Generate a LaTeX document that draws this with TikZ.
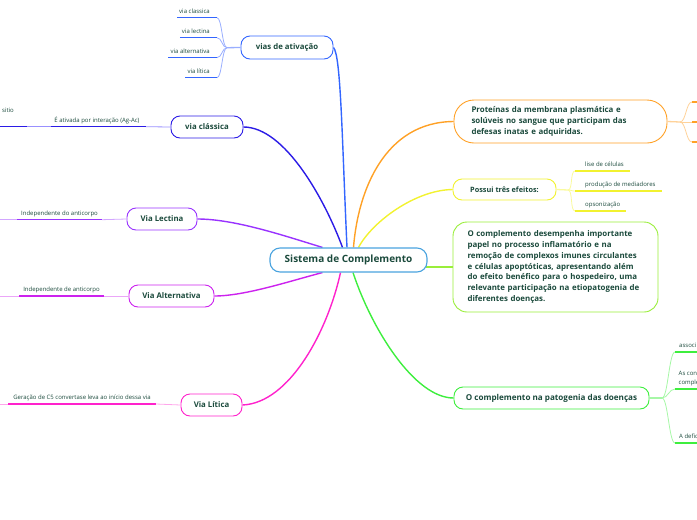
\documentclass[tikz,border=0pt]{standalone}
\usepackage{fontspec}
\setmainfont{Open Sans}
\usetikzlibrary{calc}
\pgfdeclarelayer{bg}
\pgfsetlayers{bg,main}
\definecolor{txt}{HTML}{1B4A3C}
\definecolor{cCen}{HTML}{4AA3DF}
\definecolor{cVias}{HTML}{3366FF}
\definecolor{cViasL}{HTML}{99AEFF}
\definecolor{cCla}{HTML}{2B1BE6}
\definecolor{cClaL}{HTML}{9990FF}
\definecolor{cLec}{HTML}{9933FF}
\definecolor{cLecL}{HTML}{D2A6FF}
\definecolor{cAlt}{HTML}{CC22EE}
\definecolor{cAltL}{HTML}{EBA6F8}
\definecolor{cLit}{HTML}{FF22CC}
\definecolor{cLitL}{HTML}{FFA6EB}
\definecolor{cOra}{HTML}{FFA126}
\definecolor{cOraL}{HTML}{FFD299}
\definecolor{cYel}{HTML}{F2F230}
\definecolor{cYelL}{HTML}{FAFA9E}
\definecolor{cLim}{HTML}{99EE3A}
\definecolor{cGrn}{HTML}{3EEE3E}
\definecolor{cGrnL}{HTML}{A6F7A6}
\begin{document}
\begin{tikzpicture}[x=1pt,y=-1pt,
  topic/.style={draw=#1, line width=0.9pt, rounded corners=9pt, fill=white, text=txt, inner sep=0pt, align=center},
  bfs/.style={font=\bfseries\fontsize{7.8}{9}\selectfont},
  bfm/.style={font=\bfseries\fontsize{7.9}{10.8}\selectfont},
  lbl/.style={font=\fontsize{6}{9}\selectfont, text=txt, inner sep=0pt},
  ul/.style={draw=#1, line width=1.4pt},
  lk/.style={draw=#1, line width=0.8pt},
  mainlk/.style={draw=#1, line width=1.4pt}
]
\useasboundingbox (0,0) rectangle (697,520);
% topic nodes
\node[topic=cCen, line width=1.1pt, rounded corners=10pt, minimum width=157pt, minimum height=24pt,
      font=\bfseries\fontsize{10}{11}\selectfont] (cen) at (348.5,260) {Sistema de Complemento};
\node[topic=cVias, bfs, minimum width=92pt, minimum height=23pt] (vias) at (287,47.5) {vias de ativação};
\node[topic=cCla, bfs, minimum width=72pt, minimum height=22pt] (cla) at (207,127) {via clássica};
\node[topic=cLec, bfs, minimum width=70pt, minimum height=22pt] (lec) at (162,219) {Via Lectina};
\node[topic=cAlt, bfs, minimum width=85pt, minimum height=22pt] (alt) at (171.5,296) {Via Alternativa};
\node[topic=cLit, bfs, minimum width=61pt, minimum height=22pt] (lit) at (211.5,405) {Via Lítica};
\node[topic=cOra, bfm, rounded corners=20pt, minimum width=213pt, minimum height=43pt, text width=178pt, align=left] (prot) at (560.5,121.5)
  {Proteínas da membrana plasmática e\\solúveis no sangue que participam das\\defesas inatas e adquiridas.};
\node[topic=cYel, font=\bfseries\fontsize{7.3}{9}\selectfont, minimum width=103pt, minimum height=21pt] (pos) at (504.5,189.5) {Possui três efeitos:};
\node[topic=cLim, bfm, rounded corners=14pt, minimum width=205pt, minimum height=90pt, text width=176pt, align=left] (lime) at (555.5,267)
  {O complemento desempenha importante\\papel no processo inflamatório e na\\remoção de complexos imunes circulantes\\e células apoptóticas, apresentando além\\do efeito benéfico para o hospedeiro, uma\\relevante participação na etiopatogenia de\\diferentes doenças.};
\node[topic=cGrn, font=\bfseries\fontsize{8.1}{10}\selectfont, minimum width=195pt, minimum height=22pt] (pat) at (551.5,398) {O complemento na patogenia das doenças};

% main connectors
\begin{pgfonlayer}{bg}
\draw[mainlk=cVias] (vias.east) .. controls (341,55) and (342,140) .. ([xshift=-1.5pt]cen.north);
\draw[mainlk=cCla] (cla.east) .. controls (285,127) and (325,200) .. ([xshift=-6pt]cen.north);
\draw[mainlk=cLec] (lec.east) .. controls (235,219) and (285,236) .. ([xshift=-26pt]cen.north);
\draw[mainlk=cAlt] (alt.east) .. controls (245,296) and (290,281) .. ([xshift=-26pt]cen.south);
\draw[mainlk=cLit] (lit.east) .. controls (290,403) and (328,330) .. ([xshift=-8pt]cen.south);
\draw[mainlk=cOra] ([xshift=5pt]cen.north) .. controls (358,190) and (385,122) .. (prot.west);
\draw[mainlk=cYel] ([xshift=10pt]cen.north) .. controls (372,222) and (415,190) .. (pos.west);
\draw[mainlk=cLim] ([xshift=-2pt]cen.east |- lime.west) -- (lime.west);
\draw[mainlk=cGrn] ([xshift=4.5pt]cen.south) .. controls (372,330) and (415,398) .. (pat.west);
\end{pgfonlayer}

% vias de ativacao children
\coordinate (vj) at (227,47.7);
\draw[lk=cViasL, line width=1.3pt] (vias.west) -- (vj);
\node[lbl, anchor=base east] (v1) at (210,13.3) {via classica};
\node[lbl, anchor=base east] (v2) at (210,33.3) {via lectina};
\node[lbl, anchor=base east] (v3) at (210,53.3) {via alternativa};
\node[lbl, anchor=base east] (v4) at (210,73.3) {via lítica};
\coordinate (v1r) at (217,17.7);
\coordinate (v2r) at (217,37.7);
\coordinate (v3r) at (217,57.7);
\coordinate (v4r) at (217,77.7);
\foreach \c in {v1,v2,v3,v4}{
  \draw[lk=cViasL] (vj) .. controls ([xshift=-5pt]vj) and ([xshift=5pt]\c r) .. (\c r);
  \draw[ul=cVias] ($(\c.west |- \c r)+(-2,0)$) -- (\c r);
}

% via classica children
\coordinate (c1r) at (146,126.7);
\coordinate (c1l) at (51,126.7);
\coordinate (c2r) at (27,126.7);
\coordinate (c2l) at (0,126.7);
\draw[lk=cClaL] (cla.west) -- (c1r);
\draw[ul=cCla] (c1l) -- (c1r);
\node[lbl, anchor=base] (c1) at (97,122.5) {É ativada por interação (Ag-Ac)};
\draw[lk=cClaL] (c1l) -- (c2r);
\draw[ul=cCla] (c2l) -- (c2r);
\node[lbl, anchor=base east] (c2) at (14,112.5) {sitio};

% via lectina child
\coordinate (l1r) at (102,219.7);
\coordinate (l1l) at (17,219.7);
\coordinate (l0) at (0,219.7);
\draw[lk=cLecL] (lec.west) -- (l1r);
\draw[ul=cLec] (l1l) -- (l1r);
\draw[lk=cLecL] (l1l) -- (l0);
\node[lbl, anchor=base] (l1) at (59.5,215) {Independente do anticorpo};

% via alternativa child
\coordinate (a1r) at (104,296);
\coordinate (a1l) at (19,296);
\coordinate (a0) at (0,296);
\draw[lk=cAltL] (alt.west) -- (a1r);
\draw[ul=cAlt] (a1l) -- (a1r);
\draw[lk=cAltL] (a1l) -- (a0);
\node[lbl, anchor=base] (a1) at (61.5,291.5) {Independente de anticorpo};

% via litica child
\coordinate (t1r) at (156,404);
\coordinate (t1l) at (8,404);
\coordinate (t0) at (0,404);
\draw[lk=cLitL] (lit.west) -- (t1r);
\draw[ul=cLit] (t1l) -- (t1r);
\draw[lk=cLitL] (t1l) -- (t0);
\node[lbl, anchor=base] (t1) at (82,399.5) {Geração de C5 convertase leva ao início dessa via};

% proteins children (cut off at page edge)
\coordinate (oj) at (680,122);
\draw[lk=cOraL, line width=1.3pt] (prot.east) -- (oj);
\foreach \y [count=\i] in {102,122,142}{
  \coordinate (o\i) at (692,\y);
  \coordinate (o\i e) at (697,\y);
  \draw[lk=cOraL] (oj) .. controls ([xshift=6pt]oj) and ([xshift=-6pt]o\i) .. (o\i);
  \draw[ul=cOra] (o\i) -- (o\i e);
}

% possui children
\coordinate (yj) at (568,190);
\draw[lk=cYelL, line width=1.3pt] (pos.east) -- (yj);
\node[lbl, anchor=base west] (y1) at (585,166.5) {lise de células};
\node[lbl, anchor=base west] (y2) at (585,186.5) {produção de mediadores};
\node[lbl, anchor=base west] (y3) at (585,206.5) {opsonização};
\coordinate (y1s) at (575,171);
\coordinate (y2s) at (575,191);
\coordinate (y3s) at (575,211);
\foreach \c in {y1,y2,y3}{
  \draw[lk=cYelL] (yj) .. controls ([xshift=5pt]yj) and ([xshift=-5pt]\c s) .. (\c s);
  \draw[ul=cYel] (\c s) -- ($(\c.east |- \c s)+(6,0)$);
}

% patogenia children (cut off at page edge)
\coordinate (gj) at (662,398);
\draw[lk=cGrnL, line width=1.3pt] (pat.east) -- (gj);
\node[lbl, anchor=base west] (g1) at (679,347.5) {associ};
\node[lbl, anchor=base west, align=left, font=\fontsize{6}{9.5}\selectfont] (g2) at (678.5,384.5) {As con\\comple};
\node[lbl, anchor=base west] (g3) at (679,438.5) {A defic};
\foreach \y [count=\i] in {352,389,443}{
  \coordinate (g\i s) at (675,\y);
  \coordinate (g\i e) at (697,\y);
  \draw[lk=cGrnL] (gj) .. controls ([xshift=6pt]gj) and ([xshift=-6pt]g\i s) .. (g\i s);
  \draw[ul=cGrn] (g\i s) -- (g\i e);
}
\end{tikzpicture}
\end{document}
